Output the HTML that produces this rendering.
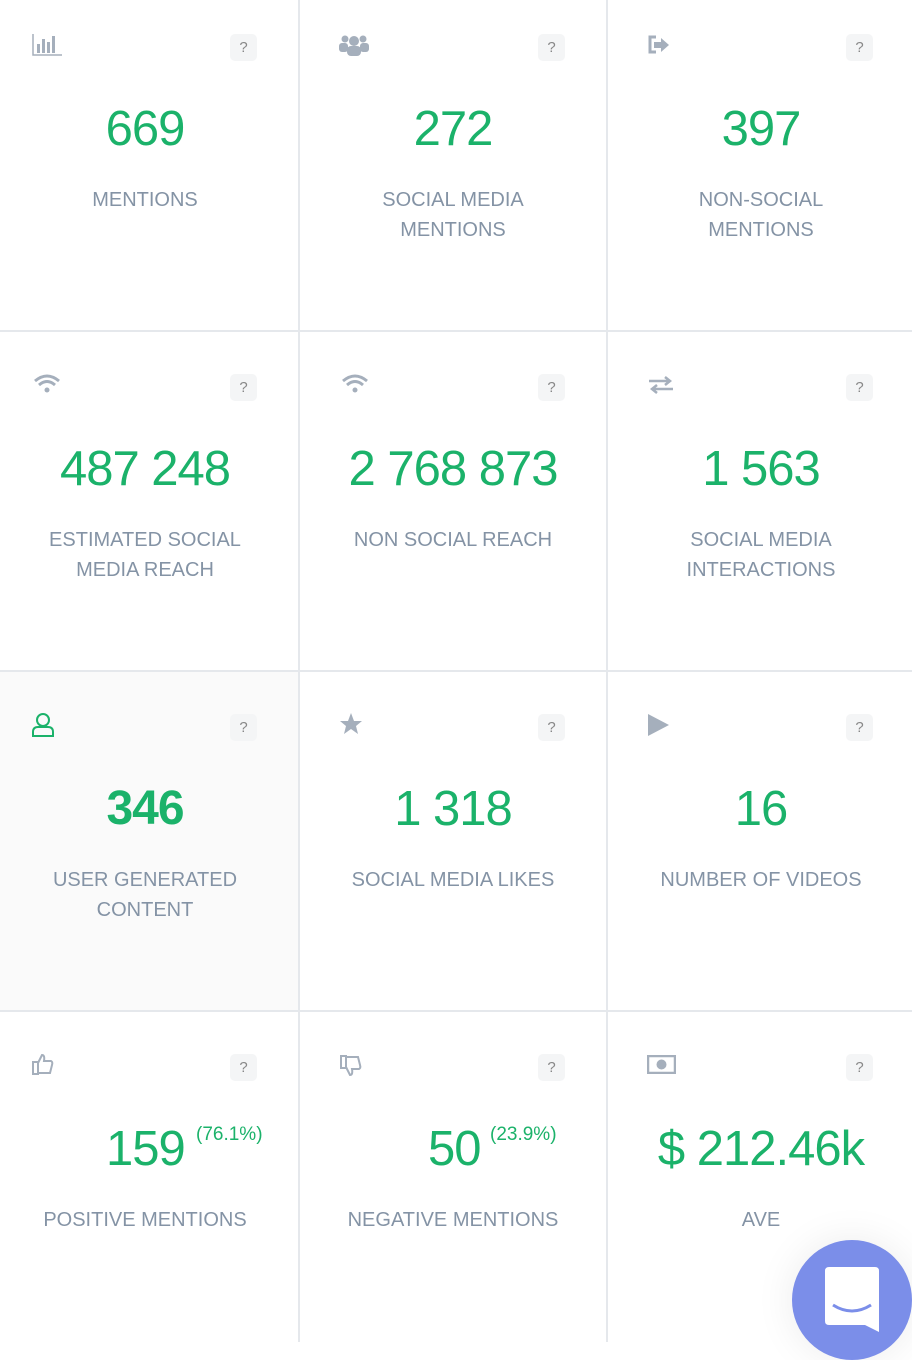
<!DOCTYPE html><html><head><style>
body{margin:0;width:912px;height:1342px;overflow:hidden;background:#fff;font-family:"Liberation Sans",sans-serif;position:relative}
.v{position:absolute;top:0;width:2px;height:1342px;background:#e5e8ec}
.h{position:absolute;left:0;width:912px;height:2px;background:#e5e8ec}
.n{position:absolute;width:300px;text-align:center;color:#1bb26a;font-size:49px;line-height:60px;letter-spacing:-1px}
.l{position:absolute;width:300px;text-align:center;color:#8493a5;font-size:20px;line-height:30px}
.q{position:absolute;width:27px;height:27px;background:#f4f5f6;border-radius:5px;color:#888;font-size:15px;text-align:center;line-height:27px}
.i{position:absolute;color:#a5afbc;font-size:22px;line-height:22px}
</style></head><body>
<div style="position:absolute;left:0;top:672px;width:298px;height:338px;background:#fafafa"></div>
<div class="v" style="left:298px"></div><div class="v" style="left:606px"></div>
<div class="h" style="top:330px"></div><div class="h" style="top:670px"></div><div class="h" style="top:1010px"></div>

<div class="q" style="left:230px;top:34px">?</div><div class="q" style="left:538px;top:34px">?</div><div class="q" style="left:846px;top:34px">?</div>
<div class="q" style="left:230px;top:374px">?</div><div class="q" style="left:538px;top:374px">?</div><div class="q" style="left:846px;top:374px">?</div>
<div class="q" style="left:230px;top:714px">?</div><div class="q" style="left:538px;top:714px">?</div><div class="q" style="left:846px;top:714px">?</div>
<div class="q" style="left:230px;top:1054px">?</div><div class="q" style="left:538px;top:1054px">?</div><div class="q" style="left:846px;top:1054px">?</div>

<svg style="position:absolute;left:32px;top:33px" width="31" height="24"><path d="M1 1V22H30" stroke="#a5afbc" stroke-width="1.5" fill="none"/><rect x="5" y="11" width="3" height="9" fill="#a5afbc"/><rect x="10" y="6" width="3" height="14" fill="#a5afbc"/><rect x="15" y="9" width="3" height="11" fill="#a5afbc"/><rect x="20" y="3" width="3" height="17" fill="#a5afbc"/></svg>
<svg style="position:absolute;left:339px;top:33px" width="30" height="24"><circle cx="15" cy="8" r="5" fill="#a5afbc"/><circle cx="6" cy="6" r="3.5" fill="#a5afbc"/><circle cx="24" cy="6" r="3.5" fill="#a5afbc"/><rect x="8" y="13" width="14" height="10" rx="4" fill="#a5afbc"/><rect x="0" y="10" width="9" height="9" rx="3" fill="#a5afbc"/><rect x="21" y="10" width="9" height="9" rx="3" fill="#a5afbc"/></svg>
<svg style="position:absolute;left:647px;top:35px" width="24" height="20"><path d="M9 2H3V17H9" stroke="#a5afbc" stroke-width="3" fill="none"/><path d="M7 7H14V3L22 10L14 17V13H7Z" fill="#a5afbc"/></svg>
<svg style="position:absolute;left:33px;top:374px" width="28" height="20"><path d="M2 7Q14-3 26 7" stroke="#a5afbc" stroke-width="3" fill="none"/><path d="M6 11Q14 4 22 11" stroke="#a5afbc" stroke-width="3" fill="none"/><circle cx="14" cy="16" r="2.5" fill="#a5afbc"/></svg>
<svg style="position:absolute;left:341px;top:374px" width="28" height="20"><path d="M2 7Q14-3 26 7" stroke="#a5afbc" stroke-width="3" fill="none"/><path d="M6 11Q14 4 22 11" stroke="#a5afbc" stroke-width="3" fill="none"/><circle cx="14" cy="16" r="2.5" fill="#a5afbc"/></svg>
<svg style="position:absolute;left:647px;top:375px" width="28" height="20"><path d="M2 6H22M18 2L23 6L18 10M26 14H6M10 10L5 14L10 18" stroke="#a5afbc" stroke-width="2.5" fill="none"/></svg>
<svg style="position:absolute;left:31px;top:712px" width="24" height="26"><circle cx="12" cy="8" r="6" stroke="#1bb26a" stroke-width="2" fill="none"/><path d="M2 24V20Q2 15 7 15H17Q22 15 22 20V24Z" stroke="#1bb26a" stroke-width="2" fill="none"/></svg>
<svg style="position:absolute;left:339px;top:712px" width="24" height="24"><path d="M12 1L15 9L23 9L17 14L19 22L12 17L5 22L7 14L1 9L9 9Z" fill="#a5afbc"/></svg>
<svg style="position:absolute;left:647px;top:713px" width="24" height="24"><path d="M1 1L22 12L1 23Z" fill="#a5afbc"/></svg>
<svg style="position:absolute;left:31px;top:1052px" width="24" height="24"><path d="M2 10H7V22H2ZM7 11L11 3Q14 3 13 9H20Q22 10 21 13L19 21H7" stroke="#a5afbc" stroke-width="2" fill="none"/></svg>
<svg style="position:absolute;left:339px;top:1054px" width="24" height="24"><path d="M2 2H7V14H2ZM7 13L11 21Q14 21 13 15H20Q22 14 21 11L19 3H7" stroke="#a5afbc" stroke-width="2" fill="none"/></svg>
<svg style="position:absolute;left:647px;top:1055px" width="29" height="19"><rect x="1" y="1" width="27" height="17" fill="none" stroke="#a5afbc" stroke-width="2.5"/><circle cx="14.5" cy="9.5" r="5" fill="#a5afbc"/></svg>

<div class="n" style="left:-5px;top:99px">669</div>
<div class="n" style="left:303px;top:99px">272</div>
<div class="n" style="left:611px;top:99px">397</div>
<div class="l" style="left:-5px;top:185px">MENTIONS</div>
<div class="l" style="left:303px;top:185px">SOCIAL MEDIA<br>MENTIONS</div>
<div class="l" style="left:611px;top:185px">NON-SOCIAL<br>MENTIONS</div>

<div class="n" style="left:-5px;top:439px">487 248</div>
<div class="n" style="left:303px;top:439px">2 768 873</div>
<div class="n" style="left:611px;top:439px">1 563</div>
<div class="l" style="left:-5px;top:525px">ESTIMATED SOCIAL<br>MEDIA REACH</div>
<div class="l" style="left:303px;top:525px">NON SOCIAL REACH</div>
<div class="l" style="left:611px;top:525px">SOCIAL MEDIA<br>INTERACTIONS</div>

<div class="n" style="left:-5px;top:779px;font-weight:bold;font-size:48px">346</div>
<div class="n" style="left:303px;top:779px">1 318</div>
<div class="n" style="left:611px;top:779px">16</div>
<div class="l" style="left:-5px;top:865px">USER GENERATED<br>CONTENT</div>
<div class="l" style="left:303px;top:865px">SOCIAL MEDIA LIKES</div>
<div class="l" style="left:611px;top:865px">NUMBER OF VIDEOS</div>

<div class="n" style="left:106px;top:1119px;width:auto;text-align:left">159</div>
<div style="position:absolute;left:196px;top:1124px;color:#1bb26a;font-size:19px">(76.1%)</div>
<div class="n" style="left:428px;top:1119px;width:auto;text-align:left">50</div>
<div style="position:absolute;left:490px;top:1124px;color:#1bb26a;font-size:19px">(23.9%)</div>
<div class="n" style="left:611px;top:1119px">$ 212.46k</div>
<div class="l" style="left:-5px;top:1205px">POSITIVE MENTIONS</div>
<div class="l" style="left:303px;top:1205px">NEGATIVE MENTIONS</div>
<div class="l" style="left:611px;top:1205px">AVE</div>

<div style="position:absolute;left:792px;top:1240px;width:120px;height:120px;border-radius:50%;background:#7b8ee9;box-shadow:0 0 40px rgba(0,0,0,0.08)"></div>
<svg style="position:absolute;left:823px;top:1267px" width="58" height="66"><path d="M6 0H52Q56 0 56 4V65L42 58H6Q2 58 2 54V4Q2 0 6 0Z" fill="#fff"/><path d="M10 38Q29 50 48 38" stroke="#7b8ee9" stroke-width="3" fill="none"/></svg>
</body></html>
